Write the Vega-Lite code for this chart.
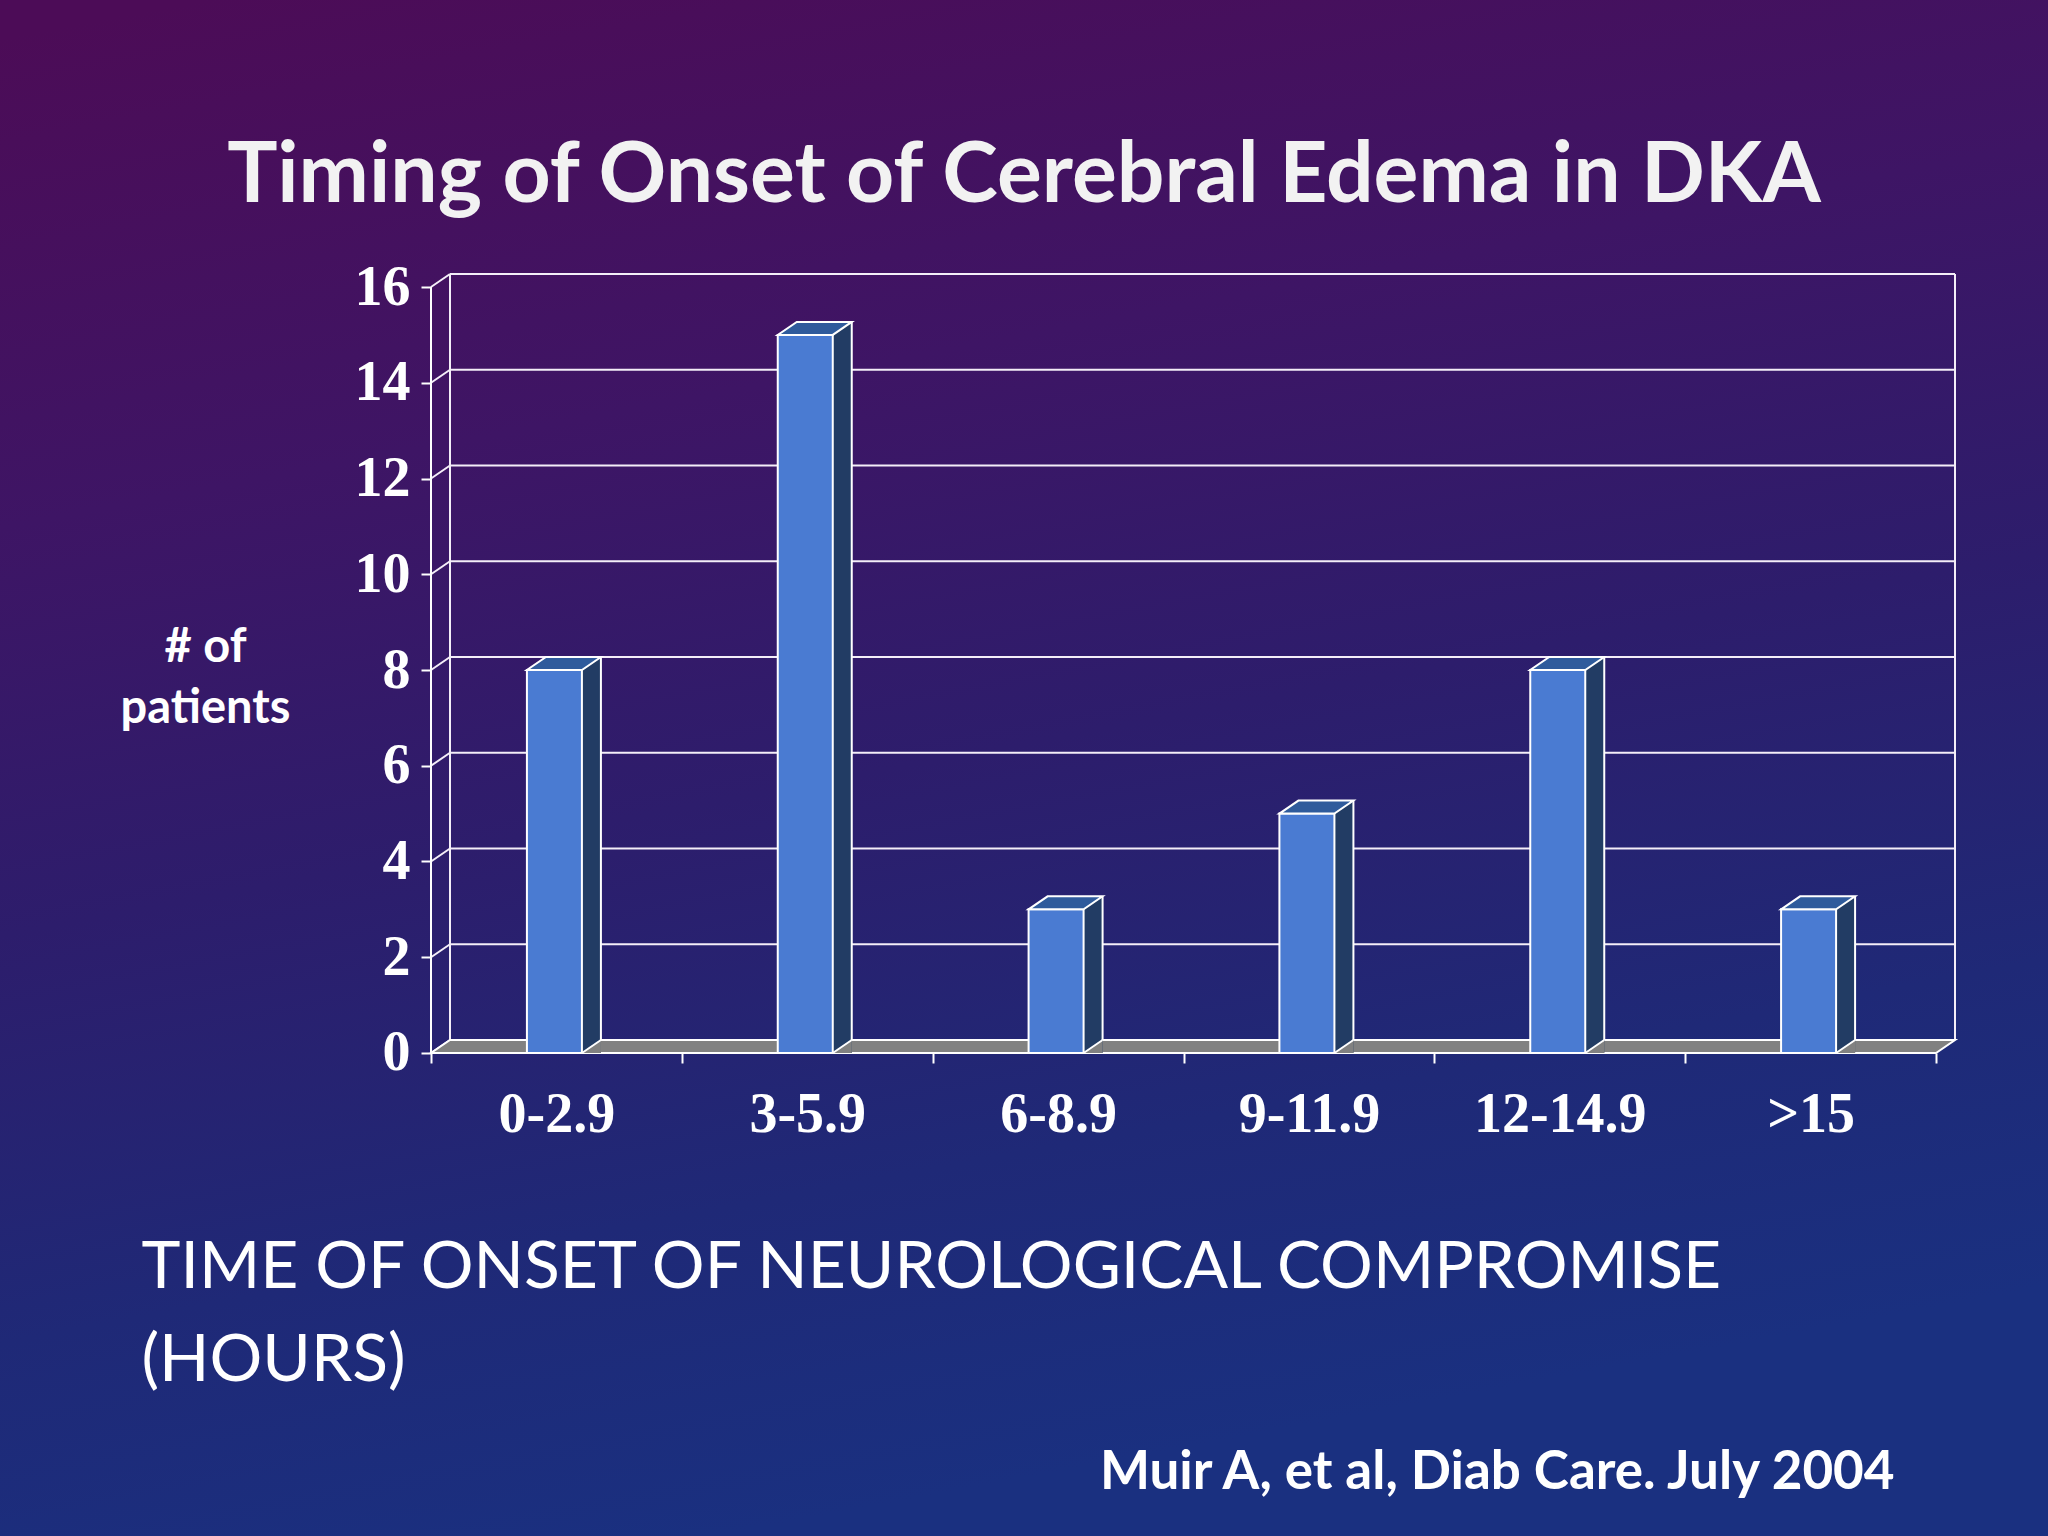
{
  "$schema": "https://vega.github.io/schema/vega-lite/v6.json",
  "width": 2048,
  "height": 1536,
  "autosize": {"type": "none"},
  "padding": 0,
  "background": "#2b1c6b",
  "config": {"view": {"stroke": null}, "axis": {"grid": false}},
  "title": {
    "text": "Timing of Onset of Cerebral Edema in DKA",
    "anchor": "middle",
    "frame": "group",
    "orient": "top",
    "offset": -286,
    "baseline": "alphabetic",
    "font": "Lato",
    "fontSize": 84,
    "fontWeight": "bold",
    "color": "#f2f2f2"
  },
  "datasets": {
    "bars": [
      {"onset": "0-2.9", "patients": 8},
      {"onset": "3-5.9", "patients": 15},
      {"onset": "6-8.9", "patients": 3},
      {"onset": "9-11.9", "patients": 5},
      {"onset": "12-14.9", "patients": 8},
      {"onset": ">15", "patients": 3}
    ],
    "levels": [
      {"level": 0}, {"level": 2}, {"level": 4}, {"level": 6}, {"level": 8},
      {"level": 10}, {"level": 12}, {"level": 14}, {"level": 16}
    ],
    "one": [{"note": "Muir A, et al, Diab Care. July 2004"}]
  },
  "resolve": {"scale": {"x": "shared", "y": "shared"}},
  "layer": [
    {
      "data": {"name": "one"},
      "mark": {
        "type": "rect",
        "color": {
          "gradient": "linear",
          "x1": 0.1, "y1": 0, "x2": 0.35, "y2": 1,
          "stops": [
            {"offset": 0, "color": "#4c0c57"},
            {"offset": 0.3, "color": "#3e1565"},
            {"offset": 0.55, "color": "#2d1d6c"},
            {"offset": 0.8, "color": "#1f2977"},
            {"offset": 1, "color": "#1a3080"}
          ]
        }
      },
      "encoding": {}
    },
    {
      "data": {"name": "levels"},
      "mark": {"type": "rule", "color": "#f4eef8", "strokeWidth": 2, "xOffset": 19, "x2Offset": 19, "yOffset": -13},
      "encoding": {
        "x": {
          "datum": "0-2.9",
          "type": "nominal",
          "bandPosition": 0,
          "scale": {
            "domain": ["0-2.9", "3-5.9", "6-8.9", "9-11.9", "12-14.9", ">15"],
            "range": [431, 1936],
            "paddingInner": 0,
            "paddingOuter": 0
          },
          "axis": {
            "orient": "bottom",
            "offset": -483,
            "zindex": 2,
            "domain": false,
            "ticks": true,
            "tickBand": "extent",
            "tickSize": 10,
            "tickWidth": 2,
            "tickColor": "#ffffff",
            "labelAngle": 0,
            "labelPadding": 24,
            "labelFont": "Liberation Serif",
            "labelFontWeight": "bold",
            "labelFontSize": 56,
            "labelColor": "#ffffff",
            "title": ["TIME OF ONSET OF NEUROLOGICAL COMPROMISE", "(HOURS)"],
            "titleX": 141,
            "titleY": 234,
            "titleAlign": "left",
            "titleAnchor": "start",
            "titleBaseline": "alphabetic",
            "titleFont": "Lato",
            "titleFontWeight": "normal",
            "titleFontSize": 66,
            "titleLineHeight": 93,
            "titleColor": "#ffffff"
          }
        },
        "x2": {"datum": ">15", "bandPosition": 1},
        "y": {
          "field": "level",
          "type": "quantitative",
          "scale": {"domain": [-10.0888, 21.9948], "nice": false, "zero": false},
          "axis": {
            "orient": "left",
            "offset": -431,
            "zindex": 2,
            "values": [0, 2, 4, 6, 8, 10, 12, 14, 16],
            "domain": false,
            "ticks": true,
            "tickSize": 10,
            "tickWidth": 2,
            "tickColor": "#ffffff",
            "labelPadding": 11,
            "labelFont": "Liberation Serif",
            "labelFontWeight": "bold",
            "labelFontSize": 56,
            "labelColor": "#ffffff",
            "title": ["# of", "patients"],
            "titleAngle": 0,
            "titleX": -226,
            "titleY": 661,
            "titleAlign": "center",
            "titleBaseline": "alphabetic",
            "titleFont": "Lato",
            "titleFontWeight": "bold",
            "titleFontSize": 47,
            "titleLineHeight": 61,
            "titleColor": "#ffffff"
          }
        }
      }
    },
    {
      "data": {"name": "levels"},
      "mark": {"type": "rule", "color": "#f4eef8", "strokeWidth": 2, "x2Offset": 19, "y2Offset": -13},
      "encoding": {
        "x": {"datum": "0-2.9", "type": "nominal", "bandPosition": 0},
        "x2": {"datum": "0-2.9", "bandPosition": 0},
        "y": {"field": "level", "type": "quantitative"},
        "y2": {"field": "level"}
      }
    },
    {
      "data": {"name": "one"},
      "mark": {"type": "rule", "color": "#f4eef8", "strokeWidth": 2, "xOffset": 19, "yOffset": -13, "y2Offset": -13},
      "encoding": {
        "x": {"datum": "0-2.9", "type": "nominal", "bandPosition": 0},
        "y": {"datum": 0, "type": "quantitative"},
        "y2": {"datum": 16}
      }
    },
    {
      "data": {"name": "one"},
      "mark": {"type": "rule", "color": "#f4eef8", "strokeWidth": 2, "xOffset": 19, "yOffset": -13, "y2Offset": -13},
      "encoding": {
        "x": {"datum": ">15", "type": "nominal", "bandPosition": 1},
        "y": {"datum": 0, "type": "quantitative"},
        "y2": {"datum": 16}
      }
    },
    {
      "data": {"name": "one"},
      "mark": {"type": "point", "shape": "M0,0L1505,0L1524,-13L19,-13Z", "size": 4, "filled": true, "fill": "#818181", "stroke": "#ffffff", "strokeWidth": 2, "opacity": 1},
      "encoding": {
        "x": {"datum": "0-2.9", "type": "nominal", "bandPosition": 0},
        "y": {"datum": 0, "type": "quantitative"}
      }
    },
    {
      "data": {"name": "one"},
      "mark": {"type": "rule", "color": "#ffffff", "strokeWidth": 2},
      "encoding": {
        "x": {"datum": "0-2.9", "type": "nominal", "bandPosition": 0},
        "y": {"datum": 0, "type": "quantitative"},
        "y2": {"datum": 16}
      }
    },
    {
      "data": {"name": "bars"},
      "mark": {"type": "bar", "width": 19, "xOffset": 35, "yOffset": -13, "fill": "#223c64", "strokeWidth": 0},
      "encoding": {
        "x": {"field": "onset", "type": "nominal"},
        "y": {"field": "patients", "type": "quantitative"},
        "y2": {"datum": 0}
      }
    },
    {
      "data": {"name": "bars"},
      "mark": {"type": "point", "shape": "M25.5,0L44.5,-13L44.5,0Z", "size": 4, "filled": true, "fill": "#818181", "strokeWidth": 0, "opacity": 1},
      "encoding": {
        "x": {"field": "onset", "type": "nominal"},
        "y": {"datum": 0, "type": "quantitative"}
      }
    },
    {
      "data": {"name": "bars"},
      "mark": {"type": "point", "shape": "M25.5,0L44.5,-13", "size": 4, "filled": false, "stroke": "#ffffff", "strokeWidth": 2, "opacity": 1},
      "encoding": {
        "x": {"field": "onset", "type": "nominal"},
        "y": {"datum": 0, "type": "quantitative"}
      }
    },
    {
      "data": {"name": "bars"},
      "mark": {"type": "rule", "color": "#ffffff", "strokeWidth": 2, "xOffset": 44.5, "yOffset": -13, "y2Offset": -13},
      "encoding": {
        "x": {"field": "onset", "type": "nominal"},
        "y": {"field": "patients", "type": "quantitative"},
        "y2": {"datum": 0}
      }
    },
    {
      "data": {"name": "bars"},
      "mark": {"type": "bar", "width": 55, "xOffset": -2, "fill": "#4a7bd2", "stroke": "#ffffff", "strokeWidth": 2},
      "encoding": {
        "x": {"field": "onset", "type": "nominal"},
        "y": {"field": "patients", "type": "quantitative"},
        "y2": {"datum": 0}
      }
    },
    {
      "data": {"name": "bars"},
      "mark": {"type": "point", "shape": "M-29.5,0L25.5,0L44.5,-13L-10.5,-13Z", "size": 4, "filled": true, "fill": "#2f5b9c", "stroke": "#ffffff", "strokeWidth": 2, "opacity": 1},
      "encoding": {
        "x": {"field": "onset", "type": "nominal"},
        "y": {"field": "patients", "type": "quantitative"}
      }
    },
    {
      "data": {"name": "one"},
      "mark": {"type": "text", "align": "right", "baseline": "alphabetic", "font": "Lato", "fontWeight": "bold", "fontSize": 53, "color": "#ffffff"},
      "encoding": {
        "x": {"datum": ">15", "type": "nominal", "bandPosition": 0.835},
        "y": {"datum": -9.108, "type": "quantitative"},
        "text": {"field": "note"}
      }
    }
  ]
}
